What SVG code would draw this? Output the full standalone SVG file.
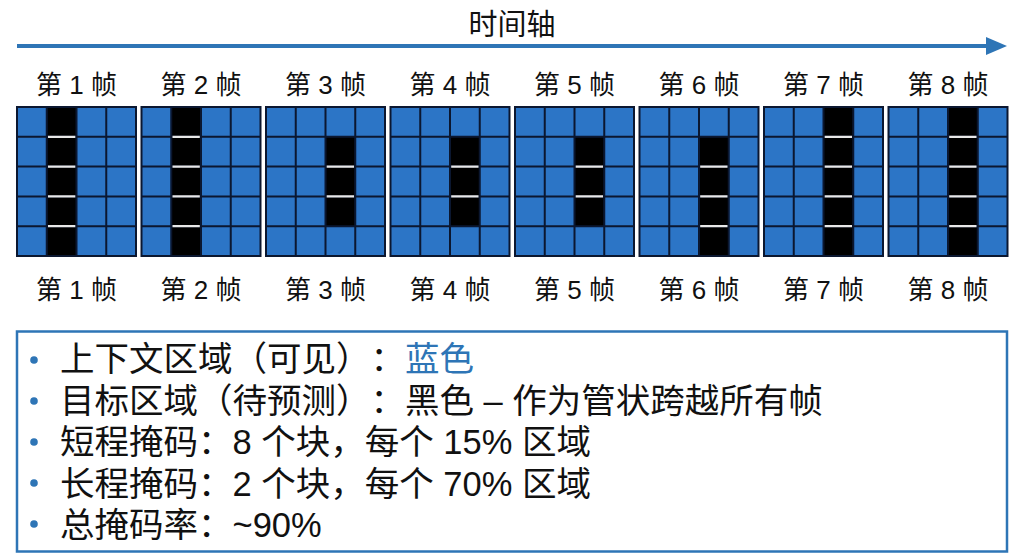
<svg xmlns="http://www.w3.org/2000/svg" xmlns:xlink="http://www.w3.org/1999/xlink" width="1024" height="559" viewBox="0 0 1024 559">
<style>
text{font-family:"Liberation Sans","Noto Sans CJK SC",sans-serif;fill:#111}
.lbl{font-size:26px;text-anchor:middle}
.title{font-size:29px;text-anchor:middle}
.item{font-size:34.5px;text-spacing-trim:space-all}
.blue{fill:#2c75c6}
.blk{fill:#000}
.grid{fill:none;stroke:#0b1730;stroke-width:2}
.sep{stroke:#e8e8e8;stroke-width:2.2}
.bul{fill:#2e75b6}
</style>
<defs>
<g id="gridlines">
<path class="grid" d="M29.75 0V149M59.5 0V149M89.25 0V149M0 29.8H119M0 59.6H119M0 89.4H119M0 119.2H119"/>
<rect class="grid" x="0" y="0" width="119" height="149"/>
</g>
<rect id="cells" class="blue" x="0" y="0" width="119" height="149"/>
</defs>
<rect width="1024" height="559" fill="#fff"/>

<g id="connectors">
<line x1="17" y1="46" x2="990" y2="46" stroke="#2e75b6" stroke-width="4"/>
<polygon points="986,37 1007,46 986,55" fill="#2e75b6"/>
</g>
<g id="title"><text class="title" x="512" y="35">时间轴</text></g>

<g id="frame1" transform="translate(17,107)">
<use xlink:href="#cells"/>
<rect class="blk" x="29.75" y="0" width="29.75" height="149"/>
<use xlink:href="#gridlines"/>
<path class="sep" d="M31 29.8H58.3M31 59.6H58.3M31 89.4H58.3M31 119.2H58.3"/>
</g>
<g id="frame2" transform="translate(141.5,107)">
<use xlink:href="#cells"/>
<rect class="blk" x="29.75" y="0" width="29.75" height="149"/>
<use xlink:href="#gridlines"/>
<path class="sep" d="M31 29.8H58.3M31 59.6H58.3M31 89.4H58.3M31 119.2H58.3"/>
</g>
<g id="frame3" transform="translate(266,107)">
<use xlink:href="#cells"/>
<rect class="blk" x="59.5" y="29.8" width="29.75" height="89.4"/>
<use xlink:href="#gridlines"/>
<path class="sep" d="M60.7 59.6H88M60.7 89.4H88"/>
</g>
<g id="frame4" transform="translate(390.5,107)">
<use xlink:href="#cells"/>
<rect class="blk" x="59.5" y="29.8" width="29.75" height="89.4"/>
<use xlink:href="#gridlines"/>
<path class="sep" d="M60.7 59.6H88M60.7 89.4H88"/>
</g>
<g id="frame5" transform="translate(515,107)">
<use xlink:href="#cells"/>
<rect class="blk" x="59.5" y="29.8" width="29.75" height="89.4"/>
<use xlink:href="#gridlines"/>
<path class="sep" d="M60.7 59.6H88M60.7 89.4H88"/>
</g>
<g id="frame6" transform="translate(639.5,107)">
<use xlink:href="#cells"/>
<rect class="blk" x="59.5" y="29.8" width="29.75" height="119.2"/>
<use xlink:href="#gridlines"/>
<path class="sep" d="M60.7 59.6H88M60.7 89.4H88M60.7 119.2H88"/>
</g>
<g id="frame7" transform="translate(764,107)">
<use xlink:href="#cells"/>
<rect class="blk" x="59.5" y="0" width="29.75" height="149"/>
<use xlink:href="#gridlines"/>
<path class="sep" d="M60.7 29.8H88M60.7 59.6H88M60.7 89.4H88M60.7 119.2H88"/>
</g>
<g id="frame8" transform="translate(888.5,107)">
<use xlink:href="#cells"/>
<rect class="blk" x="59.5" y="0" width="29.75" height="149"/>
<use xlink:href="#gridlines"/>
<path class="sep" d="M60.7 29.8H88M60.7 59.6H88M60.7 89.4H88M60.7 119.2H88"/>
</g>

<g id="labels-top">
<text class="lbl" x="76.5" y="94">第 1 帧</text>
<text class="lbl" x="201" y="94">第 2 帧</text>
<text class="lbl" x="325.5" y="94">第 3 帧</text>
<text class="lbl" x="450" y="94">第 4 帧</text>
<text class="lbl" x="574.5" y="94">第 5 帧</text>
<text class="lbl" x="699" y="94">第 6 帧</text>
<text class="lbl" x="823.5" y="94">第 7 帧</text>
<text class="lbl" x="948" y="94">第 8 帧</text>
</g>
<g id="labels-bottom">
<text class="lbl" x="76.5" y="299">第 1 帧</text>
<text class="lbl" x="201" y="299">第 2 帧</text>
<text class="lbl" x="325.5" y="299">第 3 帧</text>
<text class="lbl" x="450" y="299">第 4 帧</text>
<text class="lbl" x="574.5" y="299">第 5 帧</text>
<text class="lbl" x="699" y="299">第 6 帧</text>
<text class="lbl" x="823.5" y="299">第 7 帧</text>
<text class="lbl" x="948" y="299">第 8 帧</text>
</g>

<g id="legend">
<rect x="17" y="331.5" width="990" height="220" fill="#fff" stroke="#2e75b6" stroke-width="2.5"/>
<circle class="bul" cx="34" cy="360" r="3.8"/>
<circle class="bul" cx="34" cy="401" r="3.8"/>
<circle class="bul" cx="34" cy="442" r="3.8"/>
<circle class="bul" cx="34" cy="483" r="3.8"/>
<circle class="bul" cx="34" cy="524" r="3.8"/>
<text class="item" x="60" y="371">上下文区域（可见）：<tspan fill="#2e75b6">蓝色</tspan></text>
<text class="item" x="60" y="412.5">目标区域（待预测）：黑色 – 作为管状跨越所有帧</text>
<text class="item" x="60" y="454">短程掩码：8 个块，每个 15% 区域</text>
<text class="item" x="60" y="495.5">长程掩码：2 个块，每个 70% 区域</text>
<text class="item" x="60" y="537">总掩码率：~90%</text>
</g>
</svg>
